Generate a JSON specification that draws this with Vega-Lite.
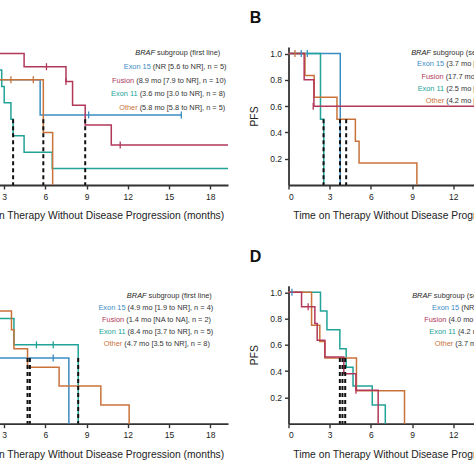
{
  "$schema": "https://vega.github.io/schema/vega-lite/v6.json",
  "padding": {"left": -76, "top": 10, "right": 0, "bottom": 0},
  "background": "white",
  "columns": 2,
  "bounds": "flush",
  "spacing": {"row": 100.7, "column": 60.5},
  "config": {
    "font": "Liberation Sans",
    "view": {"stroke": null},
    "axis": {"domainColor": "#333", "tickColor": "#333", "labelColor": "#222", "titleColor": "#222", "grid": false, "labelFontSize": 8.5, "titleFontSize": 10.3, "titleFontWeight": "normal", "domainWidth": 1.8, "tickWidth": 1.4, "tickSize": 4, "labelPadding": 3, "labelOverlap": false, "labelBound": false},
    "title": {"fontSize": 16, "fontWeight": "bold", "anchor": "start", "color": "#111", "font": "Liberation Sans", "offset": 21}
  },
  "datasets": {
    "km": [
      {"p":"A","g":"Exon 15","t":0,"s":1},{"p":"A","g":"Exon 15","t":1.2,"s":0.8},{"p":"A","g":"Exon 15","t":5.62,"s":0.533},{"p":"A","g":"Exon 15","t":15.9,"s":0.533},
      {"p":"A","g":"Exon 11","t":0,"s":1},{"p":"A","g":"Exon 11","t":1.8,"s":0.875},{"p":"A","g":"Exon 11","t":2.82,"s":0.75},{"p":"A","g":"Exon 11","t":3.0,"s":0.625},{"p":"A","g":"Exon 11","t":3.49,"s":0.5},{"p":"A","g":"Exon 11","t":3.65,"s":0.375},{"p":"A","g":"Exon 11","t":4.45,"s":0.25},{"p":"A","g":"Exon 11","t":6.5,"s":0.125},{"p":"A","g":"Exon 11","t":19.3,"s":0.125},
      {"p":"A","g":"Other","t":0,"s":1},{"p":"A","g":"Other","t":2.0,"s":0.8},{"p":"A","g":"Other","t":5.85,"s":0.4},{"p":"A","g":"Other","t":6.53,"s":0},
      {"p":"A","g":"Fusion","t":0,"s":1},{"p":"A","g":"Fusion","t":4.45,"s":0.9},{"p":"A","g":"Fusion","t":7.5,"s":0.7875},{"p":"A","g":"Fusion","t":7.98,"s":0.607},{"p":"A","g":"Fusion","t":8.9,"s":0.456},{"p":"A","g":"Fusion","t":10.8,"s":0.304},{"p":"A","g":"Fusion","t":19.3,"s":0.304},
      {"p":"B","g":"Exon 15","t":0,"s":1},{"p":"B","g":"Exon 15","t":3.77,"s":0},
      {"p":"B","g":"Exon 11","t":0,"s":1},{"p":"B","g":"Exon 11","t":2.33,"s":0.5},{"p":"B","g":"Exon 11","t":2.57,"s":0},
      {"p":"B","g":"Other","t":0,"s":1},{"p":"B","g":"Other","t":1.2,"s":0.833},{"p":"B","g":"Other","t":1.87,"s":0.667},{"p":"B","g":"Other","t":3.53,"s":0.5},{"p":"B","g":"Other","t":4.87,"s":0.333},{"p":"B","g":"Other","t":5.14,"s":0.167},{"p":"B","g":"Other","t":9.35,"s":0},
      {"p":"B","g":"Fusion","t":0,"s":1},{"p":"B","g":"Fusion","t":1.14,"s":0.8},{"p":"B","g":"Fusion","t":1.85,"s":0.6},{"p":"B","g":"Fusion","t":17.7,"s":0.3},{"p":"B","g":"Fusion","t":19.3,"s":0.3},
      {"p":"C","g":"Exon 15","t":0,"s":1},{"p":"C","g":"Exon 15","t":1.0,"s":0.75},{"p":"C","g":"Exon 15","t":1.9,"s":0.5},{"p":"C","g":"Exon 15","t":7.71,"s":0},
      {"p":"C","g":"Exon 11","t":0,"s":1},{"p":"C","g":"Exon 11","t":1.2,"s":0.8},{"p":"C","g":"Exon 11","t":3.71,"s":0.6},{"p":"C","g":"Exon 11","t":8.39,"s":0},
      {"p":"C","g":"Other","t":0,"s":1},{"p":"C","g":"Other","t":1.5,"s":0.857},{"p":"C","g":"Other","t":3.53,"s":0.714},{"p":"C","g":"Other","t":3.71,"s":0.571},{"p":"C","g":"Other","t":4.7,"s":0.429},{"p":"C","g":"Other","t":7.0,"s":0.286},{"p":"C","g":"Other","t":10.04,"s":0.143},{"p":"C","g":"Other","t":12.1,"s":0},
      {"p":"C","g":"Fusion","t":0,"s":1},{"p":"C","g":"Fusion","t":1.0,"s":0.5},{"p":"C","g":"Fusion","t":1.4,"s":0},
      {"p":"D","g":"Exon 15","t":0,"s":1},{"p":"D","g":"Exon 15","t":0.25,"s":1},
      {"p":"D","g":"Exon 11","t":0,"s":1},{"p":"D","g":"Exon 11","t":2.33,"s":0.857},{"p":"D","g":"Exon 11","t":2.8,"s":0.714},{"p":"D","g":"Exon 11","t":3.74,"s":0.571},{"p":"D","g":"Exon 11","t":4.2,"s":0.429},{"p":"D","g":"Exon 11","t":4.7,"s":0.286},{"p":"D","g":"Exon 11","t":6.1,"s":0.143},{"p":"D","g":"Exon 11","t":7.05,"s":0},
      {"p":"D","g":"Other","t":0,"s":1},{"p":"D","g":"Other","t":1.68,"s":0.75},{"p":"D","g":"Other","t":2.28,"s":0.625},{"p":"D","g":"Other","t":2.65,"s":0.5},{"p":"D","g":"Other","t":4.95,"s":0.25},{"p":"D","g":"Other","t":8.45,"s":0},
      {"p":"D","g":"Fusion","t":0,"s":1},{"p":"D","g":"Fusion","t":0.95,"s":0.889},{"p":"D","g":"Fusion","t":1.92,"s":0.762},{"p":"D","g":"Fusion","t":2.09,"s":0.635},{"p":"D","g":"Fusion","t":2.65,"s":0.508},{"p":"D","g":"Fusion","t":4.03,"s":0.381},{"p":"D","g":"Fusion","t":4.91,"s":0.254},{"p":"D","g":"Fusion","t":6.53,"s":0}
    ],
    "cens": [
      {"p":"A","g":"Exon 15","t":9.15,"s":0.533},{"p":"A","g":"Exon 15","t":15.9,"s":0.533},
      {"p":"A","g":"Other","t":3.49,"s":0.8},{"p":"A","g":"Other","t":5.12,"s":0.8},
      {"p":"A","g":"Fusion","t":6.08,"s":0.9},{"p":"A","g":"Fusion","t":7.5,"s":0.7875},{"p":"A","g":"Fusion","t":11.45,"s":0.304},
      {"p":"B","g":"Other","t":0.47,"s":1},{"p":"B","g":"Exon 15","t":0.93,"s":1},{"p":"B","g":"Exon 15","t":1.37,"s":1},{"p":"B","g":"Fusion","t":1.8,"s":0.6},
      {"p":"C","g":"Exon 11","t":5.35,"s":0.6},{"p":"C","g":"Exon 11","t":6.57,"s":0.6},{"p":"C","g":"Exon 15","t":6.57,"s":0.5},
      {"p":"D","g":"Exon 15","t":0.25,"s":1},{"p":"D","g":"Fusion","t":1.43,"s":0.889},{"p":"D","g":"Fusion","t":4.91,"s":0.254}
    ],
    "med": [
      {"p":"A","g":"Exon 11","t":3.65},{"p":"A","g":"Other","t":5.85},{"p":"A","g":"Fusion","t":8.9},
      {"p":"B","g":"Exon 11","t":2.55},{"p":"B","g":"Exon 15","t":3.75},{"p":"B","g":"Other","t":4.2},{"p":"B","g":"Fusion","t":17.7},
      {"p":"C","g":"Fusion","t":1.4},{"p":"C","g":"Other","t":4.7},{"p":"C","g":"Exon 15","t":4.87},{"p":"C","g":"Exon 11","t":8.39},
      {"p":"D","g":"Other","t":3.74},{"p":"D","g":"Fusion","t":3.93},{"p":"D","g":"Exon 11","t":4.13}
    ],
    "leg": [
      {"p":"A","g":"hdr","name":"BRAF","detail":"subgroup (first line)","lx":13.98,"ly":1.005},
      {"p":"A","g":"Exon 15","name":"Exon 15","detail":"(NR [5.6 to NR], n = 5)","lx":13.68,"ly":0.901},
      {"p":"A","g":"Fusion","name":"Fusion","detail":"(8.9 mo [7.9 to NR], n = 10)","lx":12.47,"ly":0.795},
      {"p":"A","g":"Exon 11","name":"Exon 11","detail":"(3.6 mo [3.0 to NR], n = 8)","lx":12.72,"ly":0.691},
      {"p":"A","g":"Other","name":"Other","detail":"(5.8 mo [5.8 to NR], n = 5)","lx":12.72,"ly":0.587},
      {"p":"B","g":"hdr","name":"BRAF","detail":"subgroup (second line)","lx":10.37,"ly":1.005},
      {"p":"B","g":"Exon 15","name":"Exon 15","detail":"(3.7 mo [3.7 to NR], n = 3)","lx":11.34,"ly":0.917},
      {"p":"B","g":"Fusion","name":"Fusion","detail":"(17.7 mo [1.2 to NR], n = 5)","lx":11.3,"ly":0.823},
      {"p":"B","g":"Exon 11","name":"Exon 11","detail":"(2.5 mo [2.3 to NR], n = 2)","lx":11.34,"ly":0.732},
      {"p":"B","g":"Other","name":"Other","detail":"(4.2 mo [1.2 to NR], n = 6)","lx":11.34,"ly":0.64},
      {"p":"C","g":"hdr","name":"BRAF","detail":"subgroup (first line)","lx":13.37,"ly":0.972},
      {"p":"C","g":"Exon 15","name":"Exon 15","detail":"(4.9 mo [1.9 to NR], n = 4)","lx":11.84,"ly":0.881},
      {"p":"C","g":"Fusion","name":"Fusion","detail":"(1.4 mo [NA to NA], n = 2)","lx":11.74,"ly":0.79},
      {"p":"C","g":"Exon 11","name":"Exon 11","detail":"(8.4 mo [3.7 to NR], n = 5)","lx":11.84,"ly":0.696},
      {"p":"C","g":"Other","name":"Other","detail":"(4.7 mo [3.5 to NR], n = 8)","lx":11.6,"ly":0.603},
      {"p":"D","g":"hdr","name":"BRAF","detail":"subgroup (second line)","lx":10.44,"ly":0.972},
      {"p":"D","g":"Exon 15","name":"Exon 15","detail":"(NR [NA to NA], n = 1)","lx":12.43,"ly":0.881},
      {"p":"D","g":"Fusion","name":"Fusion","detail":"(4.0 mo [1.9 to NR], n = 9)","lx":11.5,"ly":0.79},
      {"p":"D","g":"Exon 11","name":"Exon 11","detail":"(4.2 mo [2.3 to NR], n = 7)","lx":12.19,"ly":0.696},
      {"p":"D","g":"Other","name":"Other","detail":"(3.7 mo [1.7 to NR], n = 8)","lx":12.0,"ly":0.603}
    ]
  },
  "concat": [
    {
      "title": {"text": "A"},
      "width": 265, "height": 138,
      "layer": [
        {"data": {"name": "km"}, "transform": [{"filter": "datum.p == 'A'"}], "mark": {"type": "line", "interpolate": "step-after", "strokeWidth": 1.5},
         "encoding": {"x": {"field": "t", "type": "quantitative", "scale": {"domain": [0, 19.3], "nice": false}, "axis": {"values": [0,3,6,9,12,15,18], "tickCount": 12, "title": "Time on Therapy Without Disease Progression (months)", "titlePadding": 10}},
                      "y": {"field": "s", "type": "quantitative", "scale": {"domain": [0, 1.05], "nice": false}, "axis": {"values": [0.2,0.4,0.6,0.8,1.0], "tickCount": 10, "format": ".1f", "title": "PFS", "titlePadding": 10}},
                      "color": {"field": "g", "type": "nominal", "scale": {"domain": ["Exon 15","Fusion","Exon 11","Other","hdr"], "range": ["#3b8cc4","#b2385a","#22a398","#c9733a","#222222"]}, "legend": null}}},
        {"data": {"name": "cens"}, "transform": [{"filter": "datum.p == 'A'"}], "mark": {"type": "point", "shape": "M0,-1L0,1", "size": 49, "strokeWidth": 1.3, "filled": false, "opacity": 1},
         "encoding": {"x": {"field": "t", "type": "quantitative"}, "y": {"field": "s", "type": "quantitative"}, "color": {"field": "g", "type": "nominal"}}},
        {"data": {"name": "med"}, "transform": [{"filter": "datum.p == 'A'"}], "mark": {"type": "rule", "strokeDash": [4, 3], "strokeWidth": 2, "color": "#111"},
         "encoding": {"x": {"field": "t", "type": "quantitative"}, "y": {"datum": 0.5, "type": "quantitative"}, "y2": {"datum": 0}}},
        {"data": {"name": "leg"}, "transform": [{"filter": "datum.p == 'A' && datum.g != 'hdr'"}], "mark": {"type": "text", "align": "right", "baseline": "middle", "fontSize": 7.4},
         "encoding": {"x": {"field": "lx", "type": "quantitative"}, "y": {"field": "ly", "type": "quantitative"}, "text": {"field": "name"}, "color": {"field": "g", "type": "nominal"}}},
        {"data": {"name": "leg"}, "transform": [{"filter": "datum.p == 'A' && datum.g == 'hdr'"}], "mark": {"type": "text", "align": "right", "baseline": "middle", "fontSize": 7.4, "fontStyle": "italic", "color": "#222"},
         "encoding": {"x": {"field": "lx", "type": "quantitative"}, "y": {"field": "ly", "type": "quantitative"}, "text": {"field": "name"}}},
        {"data": {"name": "leg"}, "transform": [{"filter": "datum.p == 'A'"}], "mark": {"type": "text", "align": "left", "baseline": "middle", "fontSize": 7.4, "color": "#333", "dx": 2},
         "encoding": {"x": {"field": "lx", "type": "quantitative"}, "y": {"field": "ly", "type": "quantitative"}, "text": {"field": "detail"}}}
      ]
    },
    {
      "title": {"text": "B"},
      "width": 265, "height": 138,
      "layer": [
        {"data": {"name": "km"}, "transform": [{"filter": "datum.p == 'B'"}], "mark": {"type": "line", "interpolate": "step-after", "strokeWidth": 1.5},
         "encoding": {"x": {"field": "t", "type": "quantitative", "scale": {"domain": [0, 19.3], "nice": false}, "axis": {"values": [0,3,6,9,12,15,18], "tickCount": 12, "title": "Time on Therapy Without Disease Progression (months)", "titlePadding": 10}},
                      "y": {"field": "s", "type": "quantitative", "scale": {"domain": [0, 1.05], "nice": false}, "axis": {"values": [0.2,0.4,0.6,0.8,1.0], "tickCount": 10, "format": ".1f", "title": "PFS", "titlePadding": 10}},
                      "color": {"field": "g", "type": "nominal", "scale": {"domain": ["Exon 15","Fusion","Exon 11","Other","hdr"], "range": ["#3b8cc4","#b2385a","#22a398","#c9733a","#222222"]}, "legend": null}}},
        {"data": {"name": "cens"}, "transform": [{"filter": "datum.p == 'B'"}], "mark": {"type": "point", "shape": "M0,-1L0,1", "size": 49, "strokeWidth": 1.3, "filled": false, "opacity": 1},
         "encoding": {"x": {"field": "t", "type": "quantitative"}, "y": {"field": "s", "type": "quantitative"}, "color": {"field": "g", "type": "nominal"}}},
        {"data": {"name": "med"}, "transform": [{"filter": "datum.p == 'B'"}], "mark": {"type": "rule", "strokeDash": [4, 3], "strokeWidth": 2, "color": "#111"},
         "encoding": {"x": {"field": "t", "type": "quantitative"}, "y": {"datum": 0.5, "type": "quantitative"}, "y2": {"datum": 0}}},
        {"data": {"name": "leg"}, "transform": [{"filter": "datum.p == 'B' && datum.g != 'hdr'"}], "mark": {"type": "text", "align": "right", "baseline": "middle", "fontSize": 7.4},
         "encoding": {"x": {"field": "lx", "type": "quantitative"}, "y": {"field": "ly", "type": "quantitative"}, "text": {"field": "name"}, "color": {"field": "g", "type": "nominal"}}},
        {"data": {"name": "leg"}, "transform": [{"filter": "datum.p == 'B' && datum.g == 'hdr'"}], "mark": {"type": "text", "align": "right", "baseline": "middle", "fontSize": 7.4, "fontStyle": "italic", "color": "#222"},
         "encoding": {"x": {"field": "lx", "type": "quantitative"}, "y": {"field": "ly", "type": "quantitative"}, "text": {"field": "name"}}},
        {"data": {"name": "leg"}, "transform": [{"filter": "datum.p == 'B'"}], "mark": {"type": "text", "align": "left", "baseline": "middle", "fontSize": 7.4, "color": "#333", "dx": 2},
         "encoding": {"x": {"field": "lx", "type": "quantitative"}, "y": {"field": "ly", "type": "quantitative"}, "text": {"field": "detail"}}}
      ]
    },
    {
      "title": {"text": "C"},
      "width": 265, "height": 138,
      "layer": [
        {"data": {"name": "km"}, "transform": [{"filter": "datum.p == 'C'"}], "mark": {"type": "line", "interpolate": "step-after", "strokeWidth": 1.5},
         "encoding": {"x": {"field": "t", "type": "quantitative", "scale": {"domain": [0, 19.3], "nice": false}, "axis": {"values": [0,3,6,9,12,15,18], "tickCount": 12, "title": "Time on Therapy Without Disease Progression (months)", "titlePadding": 10}},
                      "y": {"field": "s", "type": "quantitative", "scale": {"domain": [0, 1.05], "nice": false}, "axis": {"values": [0.2,0.4,0.6,0.8,1.0], "tickCount": 10, "format": ".1f", "title": "PFS", "titlePadding": 10}},
                      "color": {"field": "g", "type": "nominal", "scale": {"domain": ["Exon 15","Fusion","Exon 11","Other","hdr"], "range": ["#3b8cc4","#b2385a","#22a398","#c9733a","#222222"]}, "legend": null}}},
        {"data": {"name": "cens"}, "transform": [{"filter": "datum.p == 'C'"}], "mark": {"type": "point", "shape": "M0,-1L0,1", "size": 49, "strokeWidth": 1.3, "filled": false, "opacity": 1},
         "encoding": {"x": {"field": "t", "type": "quantitative"}, "y": {"field": "s", "type": "quantitative"}, "color": {"field": "g", "type": "nominal"}}},
        {"data": {"name": "med"}, "transform": [{"filter": "datum.p == 'C'"}], "mark": {"type": "rule", "strokeDash": [4, 3], "strokeWidth": 2, "color": "#111"},
         "encoding": {"x": {"field": "t", "type": "quantitative"}, "y": {"datum": 0.5, "type": "quantitative"}, "y2": {"datum": 0}}},
        {"data": {"name": "leg"}, "transform": [{"filter": "datum.p == 'C' && datum.g != 'hdr'"}], "mark": {"type": "text", "align": "right", "baseline": "middle", "fontSize": 7.4},
         "encoding": {"x": {"field": "lx", "type": "quantitative"}, "y": {"field": "ly", "type": "quantitative"}, "text": {"field": "name"}, "color": {"field": "g", "type": "nominal"}}},
        {"data": {"name": "leg"}, "transform": [{"filter": "datum.p == 'C' && datum.g == 'hdr'"}], "mark": {"type": "text", "align": "right", "baseline": "middle", "fontSize": 7.4, "fontStyle": "italic", "color": "#222"},
         "encoding": {"x": {"field": "lx", "type": "quantitative"}, "y": {"field": "ly", "type": "quantitative"}, "text": {"field": "name"}}},
        {"data": {"name": "leg"}, "transform": [{"filter": "datum.p == 'C'"}], "mark": {"type": "text", "align": "left", "baseline": "middle", "fontSize": 7.4, "color": "#333", "dx": 2},
         "encoding": {"x": {"field": "lx", "type": "quantitative"}, "y": {"field": "ly", "type": "quantitative"}, "text": {"field": "detail"}}}
      ]
    },
    {
      "title": {"text": "D"},
      "width": 265, "height": 138,
      "layer": [
        {"data": {"name": "km"}, "transform": [{"filter": "datum.p == 'D'"}], "mark": {"type": "line", "interpolate": "step-after", "strokeWidth": 1.5},
         "encoding": {"x": {"field": "t", "type": "quantitative", "scale": {"domain": [0, 19.3], "nice": false}, "axis": {"values": [0,3,6,9,12,15,18], "tickCount": 12, "title": "Time on Therapy Without Disease Progression (months)", "titlePadding": 10}},
                      "y": {"field": "s", "type": "quantitative", "scale": {"domain": [0, 1.05], "nice": false}, "axis": {"values": [0.2,0.4,0.6,0.8,1.0], "tickCount": 10, "format": ".1f", "title": "PFS", "titlePadding": 10}},
                      "color": {"field": "g", "type": "nominal", "scale": {"domain": ["Exon 15","Fusion","Exon 11","Other","hdr"], "range": ["#3b8cc4","#b2385a","#22a398","#c9733a","#222222"]}, "legend": null}}},
        {"data": {"name": "cens"}, "transform": [{"filter": "datum.p == 'D'"}], "mark": {"type": "point", "shape": "M0,-1L0,1", "size": 49, "strokeWidth": 1.3, "filled": false, "opacity": 1},
         "encoding": {"x": {"field": "t", "type": "quantitative"}, "y": {"field": "s", "type": "quantitative"}, "color": {"field": "g", "type": "nominal"}}},
        {"data": {"name": "med"}, "transform": [{"filter": "datum.p == 'D'"}], "mark": {"type": "rule", "strokeDash": [4, 3], "strokeWidth": 2, "color": "#111"},
         "encoding": {"x": {"field": "t", "type": "quantitative"}, "y": {"datum": 0.5, "type": "quantitative"}, "y2": {"datum": 0}}},
        {"data": {"name": "leg"}, "transform": [{"filter": "datum.p == 'D' && datum.g != 'hdr'"}], "mark": {"type": "text", "align": "right", "baseline": "middle", "fontSize": 7.4},
         "encoding": {"x": {"field": "lx", "type": "quantitative"}, "y": {"field": "ly", "type": "quantitative"}, "text": {"field": "name"}, "color": {"field": "g", "type": "nominal"}}},
        {"data": {"name": "leg"}, "transform": [{"filter": "datum.p == 'D' && datum.g == 'hdr'"}], "mark": {"type": "text", "align": "right", "baseline": "middle", "fontSize": 7.4, "fontStyle": "italic", "color": "#222"},
         "encoding": {"x": {"field": "lx", "type": "quantitative"}, "y": {"field": "ly", "type": "quantitative"}, "text": {"field": "name"}}},
        {"data": {"name": "leg"}, "transform": [{"filter": "datum.p == 'D'"}], "mark": {"type": "text", "align": "left", "baseline": "middle", "fontSize": 7.4, "color": "#333", "dx": 2},
         "encoding": {"x": {"field": "lx", "type": "quantitative"}, "y": {"field": "ly", "type": "quantitative"}, "text": {"field": "detail"}}}
      ]
    }
  ]
}
